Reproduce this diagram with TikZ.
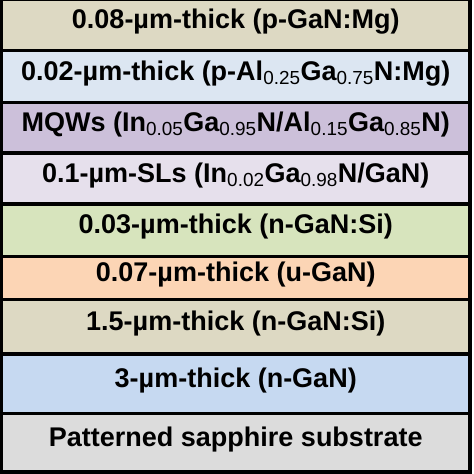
\documentclass[tikz,border=0pt]{standalone}
\usepackage{fontspec}
\setmainfont{Liberation Sans}
\definecolor{cA}{HTML}{DDD9C3}
\definecolor{cB}{HTML}{DCE6F2}
\definecolor{cC}{HTML}{CCC0DA}
\definecolor{cD}{HTML}{E6E0EC}
\definecolor{cE}{HTML}{D7E4BD}
\definecolor{cF}{HTML}{FCD5B5}
\definecolor{cG}{HTML}{C6D9F1}
\definecolor{cH}{HTML}{DCDCDC}
\newcommand{\sbx}[1]{\textsubscript{\mdseries #1}}
\tikzset{
  layer/.style={draw=black, line width=3.5pt, rectangle, inner sep=0pt, outer sep=0pt,
    minimum width=468.5pt, text height=0.716em, text depth=0pt,
    font=\fontsize{27}{32}\selectfont\bfseries}
}
\begin{document}
\begin{tikzpicture}[x=1pt,y=1pt]
\useasboundingbox (0,0) rectangle (474,474);
\fill[white] (0,0) rectangle (474,474);
\node[layer, fill=cA, minimum height=51pt]   (l1) at (235.75,449)    {0.08-µm-thick (p-GaN:Mg)};
\node[layer, fill=cB, minimum height=52pt]   (l2) at (235.75,397.5)  {0.02-µm-thick (p-Al\sbx{0.25}Ga\sbx{0.75}N:Mg)};
\node[layer, fill=cC, minimum height=50.5pt] (l3) at (235.75,346.25) {MQWs (In\sbx{0.05}Ga\sbx{0.95}N/Al\sbx{0.15}Ga\sbx{0.85}N)};
\node[layer, fill=cD, minimum height=51pt]   (l4) at (235.75,295.5)  {0.1-µm-SLs (In\sbx{0.02}Ga\sbx{0.98}N/GaN)};
\node[layer, fill=cE, minimum height=52.5pt] (l5) at (235.75,243.75) {0.03-µm-thick (n-GaN:Si)};
\node[layer, fill=cF, minimum height=43pt]   (l6) at (235.75,196)    {0.07-µm-thick (u-GaN)};
\node[layer, fill=cA, minimum height=54.5pt] (l7) at (235.75,147.25) {1.5-µm-thick (n-GaN:Si)};
\node[layer, fill=cG, minimum height=59.5pt] (l8) at (235.75,90.25)  {3-µm-thick (n-GaN)};
\node[layer, fill=cH, minimum height=58.5pt] (l9) at (235.75,31.25)  {Patterned sapphire substrate};
\end{tikzpicture}
\end{document}
